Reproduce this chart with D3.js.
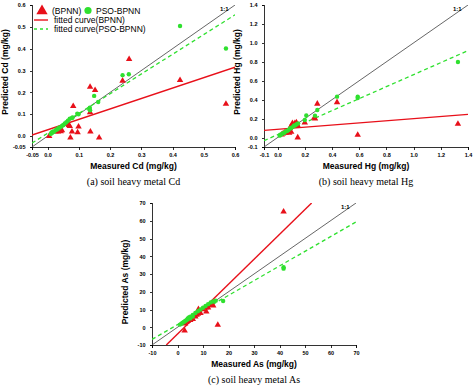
<!DOCTYPE html>
<html>
  <head>
    <title>Measured vs predicted heavy metals</title>
    <style type="text/css">
        body{ margin: 0; background: #fff; }
        .tick text{ font-family: Arial, "Liberation Sans", sans-serif; font-weight: bold; font-size: 5.5px; fill: #000; }
        .axis path, .axis line{ stroke: #000; stroke-width: 0.8px; shape-rendering: crispEdges; }
        .title{ font-family: Arial, "Liberation Sans", sans-serif; font-weight: bold; font-size: 8.5px; fill: #000; }
        .caption{ font-family: "Liberation Serif", "Times New Roman", serif; font-size: 10px; fill: #000; }
        .legend{ font-family: Arial, "Liberation Sans", sans-serif; font-size: 8.5px; fill: #000; }
    </style>
  </head>
  <body>
    <div id="chart"></div>
    <script src="https://cdn.jsdelivr.net/npm/d3@7"></script>
    <script>
        //  (a) Cd : [measured, predicted]
        var cdBpnn = [[0.424,0.256],[0.571,0.147],[0.261,0.352],[0.24,0.253],[0.136,0.225],[0.152,0.21],
            [0.082,0.137],[0.136,0.108],[0.078,0.02],[0.099,0.043],[0.073,-0.007],[0.096,0.017],[0.137,0.02],
            [0.165,-0.007],[0.071,0.045],[0.033,0.02],[0.038,0.025],[0.042,0.022],[0.046,0.026],[0.03,0.025],
            [0.025,0.02],[0.065,0.055],[0.068,0.05],[0.005,0.0]];
        var cdPso = [[0.424,0.504],[0.571,0.401],[0.24,0.279],[0.26,0.283],[0.149,0.184],[0.162,0.156],
            [0.135,0.13],[0.136,0.118],[0.134,0.123],[0.099,0.1],[0.095,0.103],[0.071,0.08],[0.078,0.083],
            [0.065,0.07],[0.06,0.063],[0.055,0.058],[0.05,0.05],[0.045,0.045],[0.04,0.04],[0.035,0.035],
            [0.03,0.03],[0.025,0.027],[0.02,0.02],[0.015,0.015],[0.01,0.01],[0.08,0.085]];
        var cdFitBpnn = [[-0.05,0.005],[0.6,0.315]];
        var cdFitPso = [[-0.05,-0.032],[0.6,0.555]];
        var cdTicks = [-0.05,0,0.1,0.2,0.3,0.4,0.5,0.6];
        var cdTickLabels = ["-0.05","0.0","0.1","0.2","0.3","0.4","0.5","0.6"];

        //  (b) Hg
        var hgBpnn = [[1.326,0.143],[0.589,0.027],[0.148,0.0],[0.292,0.356],[0.437,0.372],[0.275,0.2],
            [0.27,0.21],[0.2,0.157],[0.138,0.16],[0.109,0.15],[0.127,0.15],[0.1,0.12],[0.09,0.1],[0.08,0.07],
            [0.07,0.06],[0.06,0.05],[0.05,0.05],[0.04,0.04],[0.03,0.03],[0.085,0.05],[0.1,0.06],[0.12,0.13],
            [0.14,0.14],[0.15,0.12]];
        var hgPso = [[1.326,0.798],[0.589,0.432],[0.589,0.418],[0.437,0.432],[0.292,0.291],[0.275,0.231],
            [0.211,0.232],[0.2,0.185],[0.15,0.15],[0.14,0.14],[0.13,0.13],[0.12,0.125],[0.11,0.11],[0.1,0.1],
            [0.09,0.095],[0.08,0.08],[0.07,0.07],[0.06,0.065],[0.05,0.05],[0.04,0.045],[0.03,0.035],
            [0.02,0.03],[0.015,0.02]];
        var hgFitBpnn = [[-0.1,0.076],[1.4,0.245]];
        var hgFitPso = [[-0.1,-0.033],[1.4,0.918]];
        var hgTicks = [-0.1,0,0.2,0.4,0.6,0.8,1.0,1.2,1.4];
        var hgTickLabels = ["-0.1","0.0","0.2","0.4","0.6","0.8","1.0","1.2","1.4"];

        //  (c) As
        var asBpnn = [[41.6,65.1],[15.8,1.3],[2.8,-1.9],[8.2,10.1],[14,12.2],[11.3,8.8],[3,2],[3.5,3],
            [4,3.5],[5,4],[5.5,5],[6,4.5],[7,6],[7.5,7],[8,7.5],[9,8],[10,10],[11,11],[12,11],[13,12.5],[13.5,13]];
        var asPso = [[41.6,33.8],[41.6,33],[17.9,14.8],[15,15],[14,14.5],[13,14],[12,13],[11,12],[10,11],
            [9,10],[8,9],[7,8],[6,7],[5,6],[4.5,5.5],[4,5],[3.5,4],[3,3.5],[2.5,3],[2,2.5],[1.5,2],[1,1.5],
            [5,5],[6,6],[4,4.5]];
        var asFitBpnn = [[-4.4,-10],[52.6,70]];
        var asFitPso = [[-10,-6.8],[70,59.3]];
        var asTicks = [-10,0,10,20,30,40,50,60,70];
        var asTickLabels = ["-10","0","10","20","30","40","50","60","70"];

        var red = "#e8101a", green = "#2fe02f", grey = "#555";

        var svg = d3.select("#chart").append("svg")
            .attr("width", 474)
            .attr("height", 387);

        //  one scatter panel
        function drawPanel(p) {
            var x = d3.scaleLinear().domain(p.domain).range([p.left, p.right]);
            var y = d3.scaleLinear().domain(p.domain).range([p.bottom, p.top]);
            var fmt = (d, i) => p.labels[i];
            var g = svg.append("g");

            g.append("clipPath").attr("id", "clip-" + p.id)
                .append("rect")
                    .attr("x", p.left).attr("y", p.top)
                    .attr("width", p.right - p.left).attr("height", p.bottom - p.top);

            g.append("g").attr("class", "axis")
                .attr("transform", "translate(0," + p.bottom + ")")
                .call(d3.axisBottom(x).tickValues(p.ticks).tickSize(2.5).tickPadding(4).tickFormat(fmt));
            g.append("g").attr("class", "axis")
                .attr("transform", "translate(" + p.left + ",0)")
                .call(d3.axisLeft(y).tickValues(p.ticks).tickSize(2.5).tickPadding(4).tickFormat(fmt));

            var lines = g.append("g").attr("clip-path", "url(#clip-" + p.id + ")");
            var line = d3.line().x(d => x(d[0])).y(d => y(d[1]));

            //  1:1 reference
            lines.append("path")
                .attr("d", line([[p.domain[0], p.domain[0]], [p.domain[1], p.domain[1]]]))
                .attr("fill", "none").attr("stroke", grey).attr("stroke-width", 0.9);
            lines.append("path").attr("d", line(p.fitBpnn))
                .attr("fill", "none").attr("stroke", red).attr("stroke-width", 1.4);
            lines.append("path").attr("d", line(p.fitPso))
                .attr("fill", "none").attr("stroke", green).attr("stroke-width", 1.3)
                .attr("stroke-dasharray", "4,3");

            var tri = d3.symbol().type(d3.symbolTriangle).size(18);
            g.append("g").selectAll("path")
                .data(p.bpnn)
                .enter().append("path")
                    .attr("d", tri)
                    .attr("transform", d => "translate(" + x(d[0]) + "," + y(d[1]) + ")")
                    .attr("fill", red);
            g.append("g").selectAll("circle")
                .data(p.pso)
                .enter().append("circle")
                    .attr("cx", d => x(d[0]))
                    .attr("cy", d => y(d[1]))
                    .attr("r", 2.2)
                    .attr("fill", green);

            g.append("text").attr("class", "legend")
                .attr("x", p.right - 15).attr("y", p.top + 6)
                .style("font-size", "6px").style("font-weight", "bold")
                .text("1:1");

            var cx = (p.left + p.right) / 2;
            g.append("text").attr("class", "title")
                .attr("x", cx).attr("y", p.bottom + 22)
                .attr("text-anchor", "middle")
                .text("Measured " + p.metal + " (mg/kg)");
            g.append("text").attr("class", "title")
                .attr("transform", "translate(" + (p.left - 24) + "," + p.labelY + ") rotate(-90)")
                .attr("text-anchor", "middle")
                .text("Predicted " + p.metal + " (mg/kg)");
            g.append("text").attr("class", "caption")
                .attr("x", cx).attr("y", p.bottom + 38)
                .attr("text-anchor", "middle")
                .text(p.caption);
        }

        drawPanel({ id: "a", metal: "Cd", domain: [-0.05, 0.6], ticks: cdTicks, labels: cdTickLabels,
            bpnn: cdBpnn, pso: cdPso, fitBpnn: cdFitBpnn, fitPso: cdFitPso,
            left: 32, right: 235, top: 5, bottom: 147, labelY: 72, caption: "(a) soil heavy metal Cd" });
        drawPanel({ id: "b", metal: "Hg", domain: [-0.1, 1.4], ticks: hgTicks, labels: hgTickLabels,
            bpnn: hgBpnn, pso: hgPso, fitBpnn: hgFitBpnn, fitPso: hgFitPso,
            left: 264, right: 468, top: 5, bottom: 147, labelY: 72, caption: "(b) soil heavy metal Hg" });
        drawPanel({ id: "c", metal: "As", domain: [-10, 70], ticks: asTicks, labels: asTickLabels,
            bpnn: asBpnn, pso: asPso, fitBpnn: asFitBpnn, fitPso: asFitPso,
            left: 152, right: 356, top: 203, bottom: 345, labelY: 282, caption: "(c) soil heavy metal As" });

        //  legend in panel (a)
        var leg = svg.append("g");
        leg.append("path")
            .attr("d", d3.symbol().type(d3.symbolTriangle).size(55))
            .attr("transform", "translate(42,11)")
            .attr("fill", red);
        leg.append("text").attr("class", "legend").attr("x", 52).attr("y", 14).text("(BPNN)");
        leg.append("circle").attr("cx", 88).attr("cy", 10.5).attr("r", 3.6).attr("fill", green);
        leg.append("text").attr("class", "legend").attr("x", 96).attr("y", 14).text("PSO-BPNN");
        leg.append("line").attr("x1", 34).attr("x2", 48).attr("y1", 20).attr("y2", 20)
            .attr("stroke", red).attr("stroke-width", 1.4);
        leg.append("text").attr("class", "legend").attr("x", 54).attr("y", 23).text("fitted curve(BPNN)");
        leg.append("line").attr("x1", 34).attr("x2", 48).attr("y1", 29).attr("y2", 29)
            .attr("stroke", green).attr("stroke-width", 1.3).attr("stroke-dasharray", "3,3");
        leg.append("text").attr("class", "legend").attr("x", 54).attr("y", 32).text("fitted curve(PSO-BPNN)");
    </script>
  </body>
</html>
